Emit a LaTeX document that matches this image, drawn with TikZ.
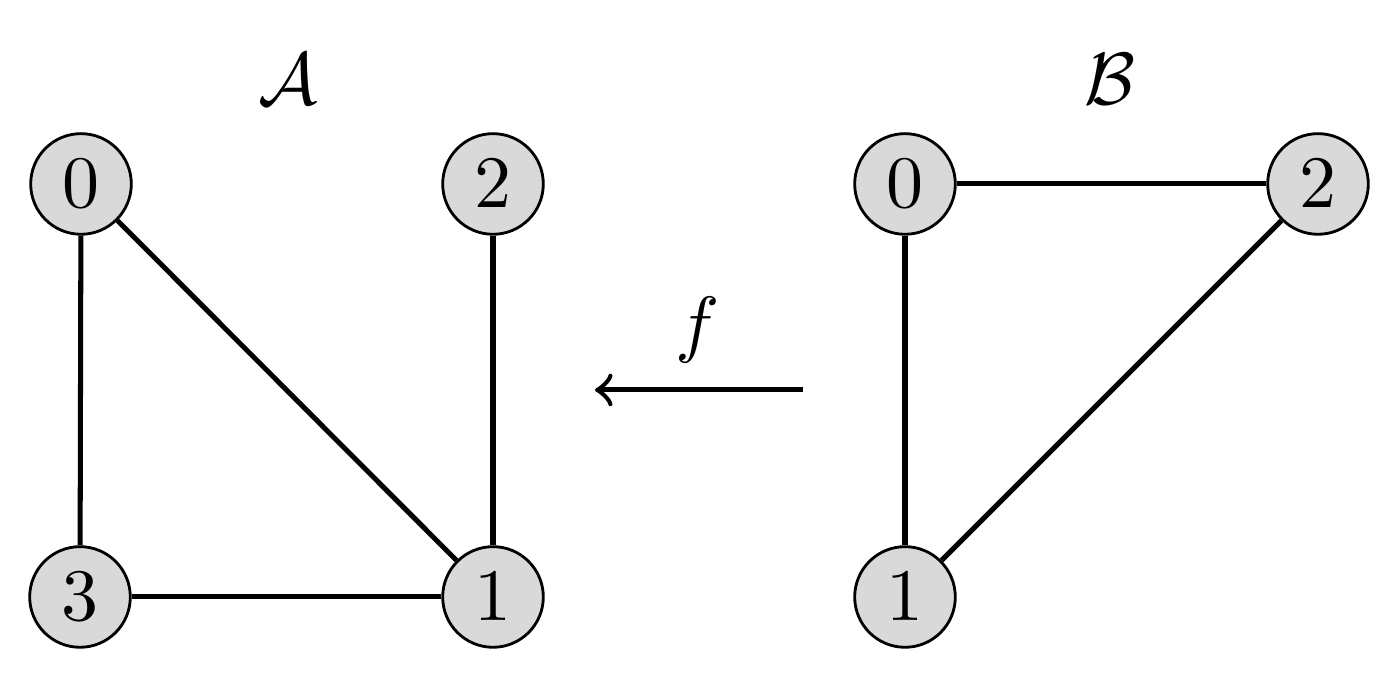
\documentclass[tikz,border=0pt]{standalone}
\begin{document}
\begin{tikzpicture}[x=0.13514pt,y=-0.13514pt,
  vtx/.style={circle,draw=black,line width=0.38pt,fill=black!15,minimum size=13.6pt,inner sep=0pt,font=\normalsize},
  edge/.style={line width=0.68pt},
  lbl/.style={font=\normalsize,inner sep=0pt}]
\useasboundingbox (0,0) rectangle (1400,673);
\node[vtx] (a0) at (81,184) {$0$};
\node[vtx] (a2) at (493,184) {$2$};
\node[vtx] (a3) at (80,597) {$3$};
\node[vtx] (a1) at (493,597) {$1$};
\node[vtx] (b0) at (905,184) {$0$};
\node[vtx] (b2) at (1318,184) {$2$};
\node[vtx] (b1) at (905,597) {$1$};
\draw[edge] (a0) -- (a3);
\draw[edge] (a0) -- (a1);
\draw[edge] (a2) -- (a1);
\draw[edge] (a3) -- (a1);
\draw[edge] (b0) -- (b2);
\draw[edge] (b0) -- (b1);
\draw[edge] (b2) -- (b1);
\node[lbl,anchor=base] (la) at (288,105) {$\mathcal{A}$};
\node[lbl,anchor=base] (lb) at (1110,105) {$\mathcal{B}$};
\coordinate (s) at (803,390);
\coordinate (t) at (595,390);
\draw[edge,->] (s) -- (t);
\node[lbl] (f) at (698,330) {$f$};
\end{tikzpicture}
\end{document}
